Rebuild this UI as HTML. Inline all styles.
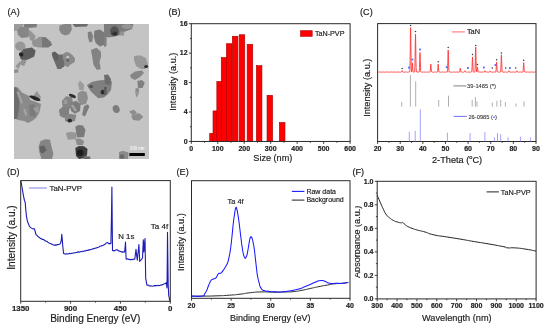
<!DOCTYPE html>
<html><head><meta charset="utf-8"><style>
html,body{margin:0;padding:0;background:#fff;}
svg{display:block;font-family:"Liberation Sans", sans-serif;filter:blur(0.25px);}
text{stroke:#222;stroke-width:0.18px;}
</style></head><body>
<svg width="550" height="331" viewBox="0 0 550 331" font-family='"Liberation Sans", sans-serif'>
<rect width="550" height="331" fill="#fff"/>
<text x="7.6" y="14.7" font-size="9.1" font-weight="normal" text-anchor="start" fill="#222" >(A)</text>
<defs><filter id="bl" x="-5%" y="-5%" width="110%" height="110%"><feGaussianBlur stdDeviation="0.5"/></filter><clipPath id="temc"><rect x="14" y="24" width="135" height="135"/></clipPath></defs>
<g id="tem" clip-path="url(#temc)">
<rect x="14" y="24" width="135" height="135" fill="#c4c4c4"/>
<g filter="url(#bl)">
<polygon points="14,24 24,24 21,28 19,30.3 14,31" fill="#9b9b9b"/>
<polygon points="24.2,24 37,24 36.5,27.2 28,28 24,27" fill="#7c7c7c"/>
<polygon points="17.2,30.3 21.6,26.5 28,27.2 30.5,32.9 28,37.3 21.6,38 17.8,34.8" fill="#868686"/>
<polygon points="28,31.6 31,31 35.6,36 34,41.8 30,40" fill="#959595"/>
<polygon points="31.8,41.8 39.4,36.7 43,37 42,47.5 39.4,47.5 33,46.2" fill="#929292"/>
<polygon points="42,37 45.7,37.3 50.8,41.8 52.1,45 48.3,47.5 42,47.5" fill="#777777"/>
<ellipse cx="20.3" cy="46.2" rx="5.2" ry="4.6" transform="rotate(0 20.3 46.2)" fill="#989898"/>
<polygon points="19,53.8 24.2,48.7 31.8,47.5 35.6,50.6 34.3,56.4 28,59.5 22.9,60.8 20.3,58.3" fill="#5c5c5c"/>
<ellipse cx="21.2" cy="54.5" rx="2.3" ry="1.9" transform="rotate(30 21.2 54.5)" fill="#222222"/>
<polygon points="20.3,61 24,59.5 26.7,61 24,66 21,65" fill="#929292"/>
<polygon points="15.5,66.5 19.5,61.5 21,63.5 18.5,69" fill="#949494"/>
<polygon points="14,70 18,69 18.5,72.4 14,73" fill="#909090"/>
<polygon points="51.8,52.8 54.8,51.5 59,54.8 62.6,54.3 63.8,59.5 65,63 64.5,66.3 60.7,68.9 57.3,68.9 56,65.5 53.9,60.4 52.2,56.2" fill="#6c6c6c"/>
<polygon points="52,53 54.8,51.8 58.5,55.5 58,60 55,60 53,57" fill="#5e5e5e"/>
<polygon points="62.4,54.5 65.8,51.9 69.2,52.4 72.6,55.3 75.1,58.7 74.7,62.1 70.9,64.2 67.5,67.2 65,65.5 63.5,60" fill="#8a8a8a"/>
<ellipse cx="67.7" cy="57.2" rx="1.6" ry="1.1" transform="rotate(0 67.7 57.2)" fill="#c6c6c6"/>
<ellipse cx="67.7" cy="60.2" rx="1.2" ry="1.5" transform="rotate(0 67.7 60.2)" fill="#5e5e5e"/>
<polygon points="59.7,25.4 64.4,24 71.2,24 71.9,29.4 69.2,34.2 65.1,35.6 61,33.5 59,29.4" fill="#878787"/>
<polygon points="72.5,24 88,24 87,26.5 75,27" fill="#6c6c6c"/>
<polygon points="87.8,32 91.5,31.5 93,36 92.4,41.5 89.5,42.4 87.9,37" fill="#808080"/>
<polygon points="94.4,30.8 99.8,29.4 104,32.2 106,38 104,45 99.8,46.4 95.7,43 93.8,37" fill="#7a7a7a"/>
<polygon points="91,50 96.4,47.8 100.7,51.2 101.2,56 99.5,62 100.8,69 97,70 93.5,65 92.4,58" fill="#838383"/>
<polygon points="104,24 133.4,24 132,29 125,31.5 119,35.5 112,37 107,37.6 104,36" fill="#7c7c7c"/>
<polygon points="120.3,31.5 124.4,31.5 124,35.6 120.5,36" fill="#959595"/>
<ellipse cx="114.5" cy="31.2" rx="4.4" ry="5.0" transform="rotate(0 114.5 31.2)" fill="#545454"/>
<ellipse cx="127" cy="26.5" rx="5.5" ry="2.6" transform="rotate(0 127 26.5)" fill="#959595"/>
<ellipse cx="114.4" cy="33.2" rx="3.4" ry="2.4" transform="rotate(0 114.4 33.2)" fill="#4a4a4a"/>
<ellipse cx="114.8" cy="33.7" rx="2.4" ry="1.6" transform="rotate(0 114.8 33.7)" fill="#2e2e2e"/>
<ellipse cx="113.6" cy="28.4" rx="2.0" ry="1.6" transform="rotate(0 113.6 28.4)" fill="#535353"/>
<polygon points="104,37 106.7,38 106.5,46 104,47" fill="#818181"/>
<polygon points="134,56 140,55.3 146,58 148,65 145.5,69 141,69 136,66 133.9,60" fill="#989898"/>
<ellipse cx="146.1" cy="66.5" rx="2.0" ry="1.6" transform="rotate(0 146.1 66.5)" fill="#2e2e2e"/>
<polygon points="130,75 135,71.5 142,70.4 144,73 140,77 135,80 131,78" fill="#868686"/>
<polygon points="137.3,81 142,79.9 144.8,83 142.5,88 138,88" fill="#808080"/>
<polygon points="135.6,88 139.3,88.5 138.5,94 136.5,97.5 135.3,93" fill="#8c8c8c"/>
<polygon points="14,86.5 18,87.5 22,92.5 29,96 30,100 36,102 41,104 40,110 38.5,114 36,118 32,121 28,123 24,121 18,120 14,118" fill="#8a8a8a"/>
<polygon points="14,87.5 17,88 19.5,98 19,110 17,119 14,119" fill="#6e6e6e"/>
<polygon points="16.5,92 18.5,91.6 27.5,114 25.5,116.5" fill="#a2a2a2"/>
<polygon points="29,105 34,104 37,110 35,117 30,116" fill="#7c7c7c"/>
<polygon points="33,108 38,106.5 39.5,111 36,113" fill="#9b9b9b"/>
<polygon points="20,104 25,102 27,108 22,110" fill="#8c8c8c"/>
<polygon points="31.8,98 36.8,91 41.3,97.5 38,99.5" fill="#949494"/>
<ellipse cx="34.9" cy="98.2" rx="6.0" ry="1.8" transform="rotate(21 34.9 98.2)" fill="#262626"/>
<polygon points="78,84 80,80.4 84.3,85 83.5,90 79.5,90" fill="#9c9c9c"/>
<polygon points="77.8,93 82,90.5 86.5,92 88,98 86,104 81,105 77.5,100" fill="#8e8e8e"/>
<polygon points="61.8,101 66,96.3 72,97 73,103 70,109.4 63,109" fill="#858585"/>
<polygon points="63.3,100 67,99.5 67.5,104 64,104" fill="#9a9a9a"/>
<polygon points="58.9,110 63,106.5 69,107.5 69,115 64,118 60,116" fill="#808080"/>
<polygon points="70.5,103 76,100.7 80.7,104 80,111 75,113.7 71,111" fill="#7c7c7c"/>
<polygon points="71,105.5 73,104.5 77,110.5 75,111.5" fill="#a4a4a4"/>
<polygon points="84,106 88,104.3 89.4,106.5 85,116.6 82.1,115" fill="#7c7c7c"/>
<polygon points="64.7,116 70,113.7 76.3,115 75,121 69,122.4 65,121" fill="#858585"/>
<ellipse cx="72.4" cy="95.9" rx="3.8" ry="1.5" transform="rotate(26 72.4 95.9)" fill="#2e2e2e"/>
<ellipse cx="69.8" cy="120.6" rx="2.3" ry="1.9" transform="rotate(0 69.8 120.6)" fill="#2a2a2a"/>
<polygon points="86.9,85.3 91.6,81.9 98.4,80.6 104,79.9 108,78 112,82 111,90 108,94 104,97.5 98.4,98.2 94.3,94.8 90.3,90.8" fill="#7f7f7f"/>
<ellipse cx="91" cy="86.6" rx="2.2" ry="1.5" transform="rotate(0 91 86.6)" fill="#555555"/>
<ellipse cx="102.6" cy="92.2" rx="2.0" ry="2.4" transform="rotate(0 102.6 92.2)" fill="#2e2e2e"/>
<polygon points="104,75 108,74.4 111,79 110,85 105,84" fill="#6c6c6c"/>
<polygon points="104,87 106.7,86.7 106.5,94.8 104,95" fill="#5c5c5c"/>
<ellipse cx="116.2" cy="109.1" rx="3.4" ry="4.0" transform="rotate(-20 116.2 109.1)" fill="#7c7c7c"/>
<polygon points="129.2,111.5 134,109.5 137,113 133,116" fill="#8e8e8e"/>
<polygon points="131.2,116 139,113 143.4,117 139,120.8 133,120" fill="#8c8c8c"/>
<polygon points="135.4,92 139.5,92 137.5,96.1" fill="#9a9a9a"/>
<polygon points="38.5,147 40.5,141 45.3,139.2 50,139.8 51.4,146 53.4,154 52,159 41.5,159 39.5,153" fill="#848484"/>
<polygon points="39.8,146.6 44,145.5 46.6,150 43,153.4 40,152" fill="#626262"/>
<polygon points="65.8,133 71,131.7 76.7,133 76,139 68,139.8" fill="#979797"/>
<polygon points="75.3,127 78,124.9 83,125.5 85.5,130 84,137.1 77,137.5" fill="#7a7a7a"/>
<polygon points="75.3,139.1 80,138.5 84.1,141 83,145.3 77,145" fill="#8b8b8b"/>
<polygon points="75.3,148 79,146 84,146.2 87.5,149 87,155 84,158 79,159 76,156" fill="#3e3e3e"/>
<ellipse cx="80.1" cy="152.7" rx="3.4" ry="3.2" transform="rotate(0 80.1 152.7)" fill="#1e1e1e"/>
<polygon points="83.5,156.1 90.3,156.6 90.3,159 83.5,159" fill="#6c6c6c"/>
<polygon points="119,152 123,150.7 128.5,152.5 128,159 119,159" fill="#8b8b8b"/>
<ellipse cx="122" cy="156.5" rx="2.4" ry="2.2" transform="rotate(0 122 156.5)" fill="#696969"/>
</g>
<rect x="129.3" y="153" width="15.5" height="3" fill="#050505"/>
<text x="130.1" y="150.1" font-size="5.2" font-weight="bold" fill="#f4f4f4" style="stroke:none" textLength="14.4" lengthAdjust="spacingAndGlyphs">200 nm</text>
</g>
<text x="168.5" y="14.7" font-size="9.1" font-weight="normal" text-anchor="start" fill="#222" >(B)</text>
<rect x="209.71" y="133.35" width="5.6" height="8.10" fill="#ff0000" stroke="#a80000" stroke-width="0.6"/>
<rect x="213.01" y="110.91" width="5.6" height="30.54" fill="#ff0000" stroke="#a80000" stroke-width="0.6"/>
<rect x="216.83" y="81.47" width="5.6" height="59.98" fill="#ff0000" stroke="#a80000" stroke-width="0.6"/>
<rect x="221.25" y="57.55" width="5.6" height="83.90" fill="#ff0000" stroke="#a80000" stroke-width="0.6"/>
<rect x="226.38" y="43.72" width="5.6" height="97.73" fill="#ff0000" stroke="#a80000" stroke-width="0.6"/>
<rect x="232.31" y="36.28" width="5.6" height="105.17" fill="#ff0000" stroke="#a80000" stroke-width="0.6"/>
<rect x="239.16" y="34.74" width="5.6" height="106.71" fill="#ff0000" stroke="#a80000" stroke-width="0.6"/>
<rect x="247.13" y="44.31" width="5.6" height="97.14" fill="#ff0000" stroke="#a80000" stroke-width="0.6"/>
<rect x="256.34" y="65.65" width="5.6" height="75.80" fill="#ff0000" stroke="#a80000" stroke-width="0.6"/>
<rect x="267.01" y="95.31" width="5.6" height="46.14" fill="#ff0000" stroke="#a80000" stroke-width="0.6"/>
<rect x="279.37" y="122.46" width="5.6" height="18.99" fill="#ff0000" stroke="#a80000" stroke-width="0.6"/>
<rect x="191.3" y="23.7" width="158.8" height="117.74999999999999" fill="none" stroke="#2a2a2a" stroke-width="1"/>
<line x1="191.3" y1="141.45" x2="191.3" y2="143.85" stroke="#2a2a2a" stroke-width="0.9"/>
<line x1="204.53333333333336" y1="141.45" x2="204.53333333333336" y2="142.75" stroke="#2a2a2a" stroke-width="0.9"/>
<line x1="217.76666666666668" y1="141.45" x2="217.76666666666668" y2="143.85" stroke="#2a2a2a" stroke-width="0.9"/>
<line x1="231.0" y1="141.45" x2="231.0" y2="142.75" stroke="#2a2a2a" stroke-width="0.9"/>
<line x1="244.23333333333335" y1="141.45" x2="244.23333333333335" y2="143.85" stroke="#2a2a2a" stroke-width="0.9"/>
<line x1="257.4666666666667" y1="141.45" x2="257.4666666666667" y2="142.75" stroke="#2a2a2a" stroke-width="0.9"/>
<line x1="270.70000000000005" y1="141.45" x2="270.70000000000005" y2="143.85" stroke="#2a2a2a" stroke-width="0.9"/>
<line x1="283.93333333333334" y1="141.45" x2="283.93333333333334" y2="142.75" stroke="#2a2a2a" stroke-width="0.9"/>
<line x1="297.1666666666667" y1="141.45" x2="297.1666666666667" y2="143.85" stroke="#2a2a2a" stroke-width="0.9"/>
<line x1="310.4" y1="141.45" x2="310.4" y2="142.75" stroke="#2a2a2a" stroke-width="0.9"/>
<line x1="323.6333333333333" y1="141.45" x2="323.6333333333333" y2="143.85" stroke="#2a2a2a" stroke-width="0.9"/>
<line x1="336.8666666666667" y1="141.45" x2="336.8666666666667" y2="142.75" stroke="#2a2a2a" stroke-width="0.9"/>
<line x1="350.1" y1="141.45" x2="350.1" y2="143.85" stroke="#2a2a2a" stroke-width="0.9"/>
<line x1="188.9" y1="141.45" x2="191.3" y2="141.45" stroke="#2a2a2a" stroke-width="0.9"/>
<line x1="190.0" y1="126.73124999999999" x2="191.3" y2="126.73124999999999" stroke="#2a2a2a" stroke-width="0.9"/>
<line x1="188.9" y1="112.01249999999999" x2="191.3" y2="112.01249999999999" stroke="#2a2a2a" stroke-width="0.9"/>
<line x1="190.0" y1="97.29374999999999" x2="191.3" y2="97.29374999999999" stroke="#2a2a2a" stroke-width="0.9"/>
<line x1="188.9" y1="82.57499999999999" x2="191.3" y2="82.57499999999999" stroke="#2a2a2a" stroke-width="0.9"/>
<line x1="190.0" y1="67.85625" x2="191.3" y2="67.85625" stroke="#2a2a2a" stroke-width="0.9"/>
<line x1="188.9" y1="53.1375" x2="191.3" y2="53.1375" stroke="#2a2a2a" stroke-width="0.9"/>
<line x1="190.0" y1="38.41875" x2="191.3" y2="38.41875" stroke="#2a2a2a" stroke-width="0.9"/>
<line x1="188.9" y1="23.700000000000003" x2="191.3" y2="23.700000000000003" stroke="#2a2a2a" stroke-width="0.9"/>
<text x="191.3" y="150.9" font-size="7.0" font-weight="bold" text-anchor="middle" fill="#222" >0</text>
<text x="217.76666666666668" y="150.9" font-size="7.0" font-weight="bold" text-anchor="middle" fill="#222" >100</text>
<text x="244.23333333333335" y="150.9" font-size="7.0" font-weight="bold" text-anchor="middle" fill="#222" >200</text>
<text x="270.70000000000005" y="150.9" font-size="7.0" font-weight="bold" text-anchor="middle" fill="#222" >300</text>
<text x="297.1666666666667" y="150.9" font-size="7.0" font-weight="bold" text-anchor="middle" fill="#222" >400</text>
<text x="323.6333333333333" y="150.9" font-size="7.0" font-weight="bold" text-anchor="middle" fill="#222" >500</text>
<text x="350.1" y="150.9" font-size="7.0" font-weight="bold" text-anchor="middle" fill="#222" >600</text>
<text x="187.6" y="143.64999999999998" font-size="7.0" font-weight="bold" text-anchor="end" fill="#222" >0</text>
<text x="187.6" y="114.21249999999999" font-size="7.0" font-weight="bold" text-anchor="end" fill="#222" >4</text>
<text x="187.6" y="84.77499999999999" font-size="7.0" font-weight="bold" text-anchor="end" fill="#222" >8</text>
<text x="187.6" y="55.337500000000006" font-size="7.0" font-weight="bold" text-anchor="end" fill="#222" >12</text>
<text x="187.6" y="25.900000000000002" font-size="7.0" font-weight="bold" text-anchor="end" fill="#222" >16</text>
<text x="272.8" y="160.5" font-size="9.1" font-weight="normal" text-anchor="middle" fill="#222" >Size (nm)</text>
<text transform="translate(176.3,81.7) rotate(-90)" font-size="9.2" text-anchor="middle" fill="#222">Intensity (a.u.)</text>
<rect x="300.5" y="30.7" width="11.7" height="5.6" fill="#ff0000" stroke="#b00000" stroke-width="0.6"/>
<text x="314.9" y="35.8" font-size="7.2" font-weight="normal" text-anchor="start" fill="#222" >TaN-PVP</text>
<text x="360.1" y="14.7" font-size="9.1" font-weight="normal" text-anchor="start" fill="#222" >(C)</text>
<rect x="377.6" y="23.6" width="158.39999999999998" height="117.9" fill="none" stroke="#2a2a2a" stroke-width="1"/>
<line x1="377.6" y1="141.5" x2="377.6" y2="143.9" stroke="#2a2a2a" stroke-width="0.9"/>
<line x1="388.9142857142857" y1="141.5" x2="388.9142857142857" y2="142.8" stroke="#2a2a2a" stroke-width="0.9"/>
<line x1="400.22857142857146" y1="141.5" x2="400.22857142857146" y2="143.9" stroke="#2a2a2a" stroke-width="0.9"/>
<line x1="411.54285714285714" y1="141.5" x2="411.54285714285714" y2="142.8" stroke="#2a2a2a" stroke-width="0.9"/>
<line x1="422.8571428571429" y1="141.5" x2="422.8571428571429" y2="143.9" stroke="#2a2a2a" stroke-width="0.9"/>
<line x1="434.1714285714286" y1="141.5" x2="434.1714285714286" y2="142.8" stroke="#2a2a2a" stroke-width="0.9"/>
<line x1="445.48571428571427" y1="141.5" x2="445.48571428571427" y2="143.9" stroke="#2a2a2a" stroke-width="0.9"/>
<line x1="456.8" y1="141.5" x2="456.8" y2="142.8" stroke="#2a2a2a" stroke-width="0.9"/>
<line x1="468.11428571428576" y1="141.5" x2="468.11428571428576" y2="143.9" stroke="#2a2a2a" stroke-width="0.9"/>
<line x1="479.42857142857144" y1="141.5" x2="479.42857142857144" y2="142.8" stroke="#2a2a2a" stroke-width="0.9"/>
<line x1="490.74285714285713" y1="141.5" x2="490.74285714285713" y2="143.9" stroke="#2a2a2a" stroke-width="0.9"/>
<line x1="502.0571428571428" y1="141.5" x2="502.0571428571428" y2="142.8" stroke="#2a2a2a" stroke-width="0.9"/>
<line x1="513.3714285714286" y1="141.5" x2="513.3714285714286" y2="143.9" stroke="#2a2a2a" stroke-width="0.9"/>
<line x1="524.6857142857143" y1="141.5" x2="524.6857142857143" y2="142.8" stroke="#2a2a2a" stroke-width="0.9"/>
<line x1="536.0" y1="141.5" x2="536.0" y2="143.9" stroke="#2a2a2a" stroke-width="0.9"/>
<text x="377.6" y="150.9" font-size="7.0" font-weight="bold" text-anchor="middle" fill="#222" >20</text>
<text x="400.22857142857146" y="150.9" font-size="7.0" font-weight="bold" text-anchor="middle" fill="#222" >30</text>
<text x="422.8571428571429" y="150.9" font-size="7.0" font-weight="bold" text-anchor="middle" fill="#222" >40</text>
<text x="445.48571428571427" y="150.9" font-size="7.0" font-weight="bold" text-anchor="middle" fill="#222" >50</text>
<text x="468.11428571428576" y="150.9" font-size="7.0" font-weight="bold" text-anchor="middle" fill="#222" >60</text>
<text x="490.74285714285713" y="150.9" font-size="7.0" font-weight="bold" text-anchor="middle" fill="#222" >70</text>
<text x="513.3714285714286" y="150.9" font-size="7.0" font-weight="bold" text-anchor="middle" fill="#222" >80</text>
<text x="536.0" y="150.9" font-size="7.0" font-weight="bold" text-anchor="middle" fill="#222" >90</text>
<text x="432.0" y="162.6" font-size="9.2" fill="#222">2-Theta (<tspan font-size="5.6" dy="-4">o</tspan><tspan dy="4">C)</tspan></text>
<text transform="translate(369.8,87.75) rotate(-90)" font-size="9.2" text-anchor="middle" fill="#222">Intensity (a.u.)</text>
<polyline points="378.1,72.2 378.3,72.2 378.5,72.2 378.7,72.1 378.9,72.1 379.1,72.0 379.3,72.0 379.5,72.0 379.7,72.0 379.9,72.0 380.1,72.0 380.3,72.0 380.5,72.1 380.7,72.1 380.9,72.1 381.1,72.2 381.3,72.2 381.5,72.2 381.7,72.2 381.9,72.2 382.1,72.2 382.3,72.1 382.5,72.1 382.7,72.1 382.9,72.0 383.1,72.0 383.3,72.0 383.5,72.0 383.7,72.0 383.9,72.0 384.1,72.0 384.3,72.1 384.5,72.1 384.7,72.2 384.9,72.2 385.1,72.2 385.3,72.2 385.5,72.2 385.7,72.2 385.9,72.2 386.1,72.1 386.3,72.1 386.5,72.0 386.7,72.0 386.9,72.0 387.1,72.0 387.3,72.0 387.5,72.0 387.7,72.0 387.9,72.1 388.1,72.1 388.3,72.1 388.5,72.2 388.7,72.2 388.9,72.2 389.1,72.2 389.3,72.2 389.5,72.2 389.7,72.1 389.9,72.1 390.1,72.1 390.3,72.0 390.5,72.0 390.7,72.0 390.9,72.0 391.1,72.0 391.3,72.0 391.5,72.0 391.7,72.1 391.9,72.1 392.1,72.2 392.3,72.2 392.5,72.2 392.7,72.2 392.9,72.2 393.1,72.2 393.3,72.2 393.5,72.1 393.7,72.1 393.9,72.0 394.1,72.0 394.3,72.0 394.5,72.0 394.7,72.0 394.9,72.0 395.1,72.0 395.3,72.1 395.5,72.1 395.7,72.1 395.9,72.2 396.1,72.2 396.3,72.2 396.5,72.2 396.7,72.2 396.9,72.2 397.1,72.1 397.3,72.1 397.5,72.1 397.7,72.0 397.9,72.0 398.1,72.0 398.3,72.0 398.5,72.0 398.7,72.0 398.9,72.0 399.1,72.1 399.3,72.1 399.5,72.2 399.7,72.2 399.9,72.2 400.1,72.2 400.3,72.2 400.5,72.2 400.7,72.2 400.9,72.1 401.1,72.1 401.3,72.0 401.5,71.8 401.7,71.4 401.9,70.9 402.1,70.6 402.3,70.9 402.5,71.5 402.7,71.9 402.9,72.1 403.1,72.1 403.3,72.2 403.5,72.2 403.7,72.2 403.9,72.2 404.1,72.2 404.3,72.2 404.5,72.1 404.7,72.1 404.9,72.1 405.1,72.0 405.3,72.0 405.5,72.0 405.7,72.0 405.9,72.0 406.1,72.0 406.3,72.0 406.5,72.1 406.7,72.1 406.9,72.2 407.1,72.2 407.3,72.2 407.5,72.2 407.7,72.2 407.9,72.2 408.1,72.2 408.3,72.1 408.5,72.1 408.7,72.0 408.9,72.0 409.1,72.0 409.3,72.0 409.5,71.9 409.7,71.6 409.9,69.3 410.1,61.3 410.3,45.4 410.5,30.1 410.6,27.7 410.7,30.1 410.9,45.5 411.1,61.4 411.3,69.5 411.5,71.8 411.7,71.9 411.9,70.5 412.1,67.2 412.3,63.5 412.4,62.8 412.5,63.4 412.7,67.1 412.9,70.4 413.1,71.7 413.3,72.0 413.5,72.0 413.7,72.1 413.9,72.1 414.1,72.1 414.3,72.2 414.5,72.1 414.7,71.2 414.9,67.3 415.1,56.9 415.3,41.9 415.5,34.2 415.7,41.8 415.9,56.7 416.1,67.1 416.3,71.0 416.5,71.9 416.7,72.0 416.9,72.0 417.1,72.0 417.3,72.0 417.5,72.1 417.7,72.1 417.9,72.2 418.1,72.2 418.3,72.2 418.5,72.2 418.7,72.2 418.9,72.2 419.1,72.0 419.3,70.9 419.5,67.4 419.7,60.4 419.9,53.6 420.0,52.5 420.1,53.6 420.3,60.3 420.5,67.3 420.7,70.8 420.9,71.8 421.1,72.0 421.3,72.1 421.5,72.1 421.7,72.2 421.9,72.2 422.1,72.2 422.3,72.2 422.5,72.2 422.7,72.2 422.9,72.2 423.1,72.1 423.3,72.1 423.5,72.0 423.7,72.0 423.9,72.0 424.1,72.0 424.3,72.0 424.5,72.0 424.7,72.0 424.9,72.1 425.1,72.1 425.3,72.2 425.5,72.2 425.7,72.2 425.9,72.2 426.1,72.2 426.3,72.2 426.5,72.2 426.7,72.1 426.9,72.1 427.1,72.1 427.3,72.0 427.5,72.0 427.7,72.0 427.9,72.0 428.1,72.0 428.3,72.0 428.5,72.1 428.7,72.1 428.9,72.1 429.1,72.2 429.3,72.2 429.5,72.2 429.7,72.2 429.9,72.1 430.1,71.7 430.3,70.2 430.5,67.3 430.7,64.4 430.8,64.0 430.9,64.4 431.1,67.1 431.3,70.0 431.5,71.5 431.7,71.9 431.9,72.0 432.1,72.0 432.3,72.1 432.5,72.1 432.7,72.2 432.9,72.2 433.1,72.2 433.3,72.2 433.5,72.2 433.7,72.2 433.9,72.2 434.1,72.1 434.3,72.1 434.5,72.1 434.7,72.0 434.9,72.0 435.1,72.0 435.3,72.0 435.5,72.0 435.7,72.0 435.9,72.1 436.1,72.1 436.3,72.1 436.5,72.2 436.7,72.2 436.9,72.2 437.1,72.2 437.3,72.1 437.5,71.7 437.7,70.2 437.9,67.3 438.1,64.4 438.2,64.0 438.3,64.4 438.5,67.1 438.7,70.0 438.9,71.5 439.1,71.9 439.3,72.0 439.5,72.0 439.7,72.1 439.9,72.1 440.1,72.2 440.3,72.2 440.5,72.2 440.7,72.2 440.9,72.2 441.1,72.2 441.3,72.2 441.5,72.1 441.7,72.1 441.9,72.1 442.1,72.0 442.3,72.0 442.5,72.0 442.7,72.0 442.9,72.0 443.1,72.0 443.3,72.1 443.5,72.1 443.7,72.1 443.9,72.2 444.1,72.2 444.3,72.2 444.5,72.2 444.7,72.2 444.9,72.2 445.1,72.2 445.3,72.1 445.5,72.1 445.7,72.0 445.9,72.0 446.1,72.0 446.3,72.0 446.5,72.0 446.7,72.0 446.9,72.0 447.1,72.1 447.3,71.9 447.5,70.8 447.7,66.8 447.9,58.9 448.1,51.2 448.2,50.0 448.3,51.2 448.5,58.9 448.7,66.8 448.9,70.8 449.1,71.9 449.3,72.0 449.5,72.0 449.7,72.0 449.9,72.0 450.1,72.0 450.3,72.0 450.5,72.0 450.7,72.1 450.9,72.1 451.1,72.1 451.3,72.2 451.5,72.2 451.7,72.2 451.9,72.2 452.1,72.2 452.3,72.2 452.5,72.2 452.7,72.1 452.9,72.1 453.1,72.0 453.3,72.0 453.5,72.0 453.7,72.0 453.9,72.0 454.1,72.0 454.3,72.0 454.5,72.1 454.7,72.1 454.9,72.2 455.1,72.2 455.3,72.2 455.5,72.2 455.7,72.2 455.9,72.2 456.1,72.2 456.3,72.1 456.5,72.1 456.7,72.1 456.9,72.0 457.1,72.0 457.3,72.0 457.5,72.0 457.7,72.0 457.9,72.0 458.1,72.1 458.3,72.1 458.5,72.1 458.7,72.2 458.9,72.2 459.1,72.2 459.3,72.2 459.5,72.1 459.7,71.7 459.9,70.5 460.1,68.8 460.3,68.0 460.5,68.8 460.7,70.3 460.9,71.5 461.1,71.9 461.3,72.0 461.5,72.0 461.7,72.0 461.9,72.1 462.1,72.1 462.3,72.2 462.5,72.2 462.7,72.2 462.9,72.2 463.1,72.2 463.3,72.2 463.5,72.2 463.7,72.1 463.9,72.1 464.1,72.0 464.3,71.9 464.5,71.7 464.7,71.2 464.9,70.8 465.0,70.7 465.1,70.8 465.3,71.2 465.5,71.7 465.7,72.0 465.9,72.1 466.1,72.2 466.3,72.2 466.5,72.2 466.7,72.2 466.9,72.2 467.1,72.2 467.3,72.1 467.5,72.1 467.7,72.1 467.9,72.0 468.1,72.0 468.3,72.0 468.5,72.0 468.7,72.0 468.9,72.0 469.1,72.0 469.3,72.1 469.5,72.1 469.7,72.2 469.9,72.2 470.1,72.2 470.3,72.2 470.5,72.2 470.7,72.2 470.9,72.2 471.1,72.1 471.3,72.1 471.5,72.0 471.7,71.6 471.9,70.0 472.1,65.9 472.3,60.0 472.5,57.0 472.7,60.1 472.9,66.0 473.1,70.2 473.3,71.7 473.5,72.1 473.7,72.2 473.9,72.2 474.1,72.2 474.3,72.2 474.5,72.2 474.7,72.1 474.9,71.4 475.1,68.8 475.3,62.0 475.5,52.2 475.7,47.1 475.9,52.1 476.1,61.9 476.3,68.8 476.5,71.4 476.7,72.0 476.9,71.7 477.1,70.5 477.3,68.3 477.5,67.1 477.7,68.4 477.9,70.5 478.1,71.8 478.3,72.1 478.5,72.1 478.7,72.1 478.9,72.0 479.1,72.0 479.3,72.0 479.5,72.0 479.7,72.0 479.9,72.0 480.1,72.0 480.3,72.1 480.5,72.1 480.7,72.1 480.9,72.2 481.1,72.2 481.3,72.2 481.5,72.2 481.7,72.2 481.9,72.2 482.1,72.1 482.3,72.1 482.5,72.1 482.7,72.0 482.9,72.0 483.1,72.0 483.3,72.0 483.5,72.0 483.7,72.0 483.9,72.0 484.1,72.1 484.3,72.0 484.5,71.8 484.7,71.2 484.9,70.7 485.0,70.6 485.1,70.7 485.3,71.3 485.5,71.8 485.7,72.1 485.9,72.1 486.1,72.1 486.3,72.0 486.5,72.0 486.7,72.0 486.9,72.0 487.1,72.0 487.3,72.0 487.5,72.0 487.7,72.1 487.9,72.1 488.1,72.1 488.3,72.2 488.5,72.2 488.7,72.2 488.9,72.2 489.1,72.2 489.3,72.1 489.5,71.9 489.7,71.4 489.9,71.0 490.0,70.9 490.1,71.0 490.3,71.3 490.5,71.7 490.7,71.9 490.9,72.0 491.1,72.0 491.3,72.0 491.5,72.1 491.7,72.1 491.9,72.2 492.1,72.2 492.3,72.2 492.5,72.2 492.7,72.2 492.9,72.2 493.1,72.2 493.3,72.1 493.5,72.1 493.7,72.0 493.9,72.0 494.1,72.0 494.3,72.0 494.5,72.0 494.7,72.0 494.9,72.0 495.1,72.1 495.3,72.1 495.5,72.1 495.7,72.1 495.9,71.6 496.1,69.8 496.3,66.2 496.5,62.7 496.6,62.1 496.7,62.6 496.9,66.1 497.1,69.7 497.3,71.4 497.5,71.9 497.7,72.0 497.9,72.0 498.1,72.0 498.3,72.0 498.5,72.0 498.7,72.0 498.9,72.1 499.1,72.1 499.3,72.2 499.5,72.2 499.7,72.2 499.9,72.2 500.1,72.2 500.3,72.2 500.5,72.0 500.7,71.1 500.9,67.9 501.1,61.7 501.3,55.8 501.4,54.8 501.5,55.7 501.7,61.7 501.9,67.8 502.1,70.9 502.3,71.9 502.5,72.1 502.7,72.1 502.9,72.1 503.1,72.2 503.3,72.2 503.5,72.2 503.7,72.2 503.9,72.2 504.1,72.2 504.3,72.1 504.5,72.1 504.7,72.1 504.9,72.0 505.1,72.0 505.3,72.0 505.5,72.0 505.7,72.0 505.9,72.0 506.1,72.1 506.3,72.1 506.5,72.1 506.7,72.2 506.9,72.2 507.1,72.2 507.3,72.2 507.5,72.2 507.7,72.2 507.9,72.2 508.1,72.1 508.3,72.0 508.5,71.7 508.7,71.2 508.9,70.8 509.0,70.7 509.1,70.8 509.3,71.2 509.5,71.7 509.7,72.0 509.9,72.1 510.1,72.1 510.3,72.1 510.5,72.2 510.7,72.2 510.9,72.2 511.1,72.2 511.3,72.2 511.5,72.2 511.7,72.1 511.9,72.1 512.1,72.1 512.3,72.0 512.5,72.0 512.7,72.0 512.9,72.0 513.1,72.0 513.3,72.0 513.5,72.1 513.7,72.1 513.9,72.1 514.1,72.2 514.3,72.2 514.5,72.2 514.7,72.2 514.9,72.2 515.1,72.2 515.3,72.2 515.5,72.1 515.7,72.1 515.9,72.0 516.1,72.0 516.3,71.9 516.5,71.7 516.7,71.2 516.9,70.8 517.0,70.7 517.1,70.8 517.3,71.3 517.5,71.8 517.7,72.1 517.9,72.2 518.1,72.2 518.3,72.2 518.5,72.2 518.7,72.2 518.9,72.2 519.1,72.1 519.3,72.1 519.5,72.1 519.7,72.0 519.9,72.0 520.1,72.0 520.3,72.0 520.5,72.0 520.7,72.0 520.9,72.1 521.1,72.1 521.3,72.1 521.5,72.2 521.7,72.2 521.9,72.2 522.1,72.2 522.3,72.2 522.5,72.2 522.7,72.1 522.9,71.9 523.1,70.9 523.3,68.3 523.5,64.6 523.7,62.7 523.9,64.6 524.1,68.2 524.3,70.8 524.5,71.8 524.7,72.0 524.9,72.1 525.1,72.2 525.3,72.2 525.5,72.2 525.7,72.2 525.9,72.2 526.1,72.2 526.3,72.2 526.5,72.1 526.7,72.1 526.9,72.1 527.1,72.0 527.3,72.0 527.5,72.0 527.7,72.0 527.9,72.0 528.1,72.0 528.3,72.1 528.5,72.1 528.7,72.1 528.9,72.2 529.1,72.2 529.3,72.2 529.5,72.2 529.7,72.2 529.9,72.2 530.1,72.2 530.3,72.1 530.5,72.1 530.7,72.0 530.9,72.0 531.1,72.0 531.3,72.0 531.5,72.0 531.7,72.0 531.9,72.0 532.1,72.1 532.3,72.1 532.5,72.2 532.7,72.2 532.9,72.2 533.1,72.2 533.3,72.2 533.5,72.2 533.7,72.2 533.9,72.1 534.1,72.1 534.3,72.1 534.5,72.0 534.7,72.0 534.9,72.0 535.1,72.0 535.3,72.0 535.5,72.0" fill="none" stroke="#ff3535" stroke-width="0.9" stroke-linejoin="round" />
<circle cx="402.1" cy="68.4" r="0.75" fill="#333"/>
<circle cx="410.6" cy="25.4" r="0.75" fill="#333"/>
<circle cx="415.5" cy="31.4" r="0.75" fill="#333"/>
<circle cx="438.2" cy="61.7" r="0.75" fill="#333"/>
<circle cx="448.2" cy="47.6" r="0.75" fill="#333"/>
<circle cx="472.5" cy="54.4" r="0.75" fill="#333"/>
<circle cx="475.7" cy="45.4" r="0.75" fill="#333"/>
<circle cx="477.5" cy="64.4" r="0.75" fill="#333"/>
<circle cx="492.3" cy="68" r="0.75" fill="#333"/>
<circle cx="496.6" cy="59.7" r="0.75" fill="#333"/>
<circle cx="501.4" cy="52.9" r="0.75" fill="#333"/>
<circle cx="505.6" cy="68" r="0.75" fill="#333"/>
<circle cx="515.7" cy="68" r="0.75" fill="#333"/>
<circle cx="523.7" cy="60.2" r="0.75" fill="#333"/>
<rect x="407.90000000000003" y="66.69999999999999" width="1.8" height="1.8" fill="#4a6cff"/>
<rect x="411.5" y="58.6" width="1.8" height="1.8" fill="#4a6cff"/>
<rect x="419.1" y="48.6" width="1.8" height="1.8" fill="#4a6cff"/>
<rect x="445.8" y="66.19999999999999" width="1.8" height="1.8" fill="#4a6cff"/>
<rect x="467.0" y="67.1" width="1.8" height="1.8" fill="#4a6cff"/>
<rect x="483.0" y="66.6" width="1.8" height="1.8" fill="#4a6cff"/>
<rect x="494.5" y="64.1" width="1.8" height="1.8" fill="#4a6cff"/>
<rect x="509.0" y="67.1" width="1.8" height="1.8" fill="#4a6cff"/>
<line x1="401.7" y1="106.6" x2="401.7" y2="102.1" stroke="#9a9a9a" stroke-width="0.8"/>
<line x1="410.4" y1="106.6" x2="410.4" y2="75.2" stroke="#9a9a9a" stroke-width="0.8"/>
<line x1="415.7" y1="106.6" x2="415.7" y2="81.3" stroke="#9a9a9a" stroke-width="0.8"/>
<line x1="438.7" y1="106.6" x2="438.7" y2="100" stroke="#9a9a9a" stroke-width="0.8"/>
<line x1="448.5" y1="106.6" x2="448.5" y2="95.7" stroke="#9a9a9a" stroke-width="0.8"/>
<line x1="472.2" y1="106.6" x2="472.2" y2="99.9" stroke="#9a9a9a" stroke-width="0.8"/>
<line x1="475.4" y1="106.6" x2="475.4" y2="97.2" stroke="#9a9a9a" stroke-width="0.8"/>
<line x1="477" y1="106.6" x2="477" y2="101.4" stroke="#9a9a9a" stroke-width="0.8"/>
<line x1="492.3" y1="106.6" x2="492.3" y2="102.5" stroke="#9a9a9a" stroke-width="0.8"/>
<line x1="496.9" y1="106.6" x2="496.9" y2="100.8" stroke="#9a9a9a" stroke-width="0.8"/>
<line x1="500.7" y1="106.6" x2="500.7" y2="99.9" stroke="#9a9a9a" stroke-width="0.8"/>
<line x1="505.4" y1="106.6" x2="505.4" y2="102" stroke="#9a9a9a" stroke-width="0.8"/>
<line x1="516.1" y1="106.6" x2="516.1" y2="103.5" stroke="#9a9a9a" stroke-width="0.8"/>
<line x1="524" y1="106.6" x2="524" y2="101.4" stroke="#9a9a9a" stroke-width="0.8"/>
<line x1="409.3" y1="141.5" x2="409.3" y2="131.7" stroke="#8c8cff" stroke-width="0.8"/>
<line x1="415.2" y1="141.5" x2="415.2" y2="130.7" stroke="#8c8cff" stroke-width="0.8"/>
<line x1="420.3" y1="141.5" x2="420.3" y2="109.5" stroke="#8c8cff" stroke-width="0.8"/>
<line x1="447.4" y1="141.5" x2="447.4" y2="132.6" stroke="#8c8cff" stroke-width="0.8"/>
<line x1="470.1" y1="141.5" x2="470.1" y2="133.1" stroke="#8c8cff" stroke-width="0.8"/>
<line x1="484.9" y1="141.5" x2="484.9" y2="132" stroke="#8c8cff" stroke-width="0.8"/>
<line x1="494.4" y1="141.5" x2="494.4" y2="137.3" stroke="#8c8cff" stroke-width="0.8"/>
<line x1="497.5" y1="141.5" x2="497.5" y2="133.1" stroke="#8c8cff" stroke-width="0.8"/>
<line x1="500.7" y1="141.5" x2="500.7" y2="134.2" stroke="#8c8cff" stroke-width="0.8"/>
<line x1="508.1" y1="141.5" x2="508.1" y2="137.3" stroke="#8c8cff" stroke-width="0.8"/>
<line x1="520.4" y1="141.5" x2="520.4" y2="136.7" stroke="#8c8cff" stroke-width="0.8"/>
<line x1="530.3" y1="141.5" x2="530.3" y2="137.3" stroke="#8c8cff" stroke-width="0.8"/>
<line x1="452" y1="31.9" x2="464.9" y2="31.9" stroke="#ff8080" stroke-width="1.2"/>
<text x="466.9" y="33.8" font-size="7.4" font-weight="normal" text-anchor="start" fill="#222" >TaN</text>
<line x1="453.5" y1="85.9" x2="466.4" y2="85.9" stroke="#8a8a8a" stroke-width="1.1"/>
<text x="467.1" y="88.2" font-size="6.2" font-weight="normal" text-anchor="start" fill="#333" style="stroke-width:0.08px" textLength="28.8" lengthAdjust="spacingAndGlyphs">39-1485 (*)</text>
<line x1="453.6" y1="116.4" x2="466.8" y2="116.4" stroke="#7a7aff" stroke-width="1.1"/>
<text x="468.4" y="118.6" font-size="6.2" font-weight="normal" text-anchor="start" fill="#333" style="stroke-width:0.08px" textLength="28.6" lengthAdjust="spacingAndGlyphs">26-0985 (<tspan fill="#4a6cff">▪</tspan>)</text>
<text x="7.0" y="174.7" font-size="9.1" font-weight="normal" text-anchor="start" fill="#222" >(D)</text>
<polyline points="20.9,181.2 21.4,184.1 22.0,187.0 22.5,190.0 23.0,193.0 23.5,195.8 24.0,198.5 24.6,201.0 25.2,202.2 25.8,210.0 26.5,216.6 27.0,219.1 27.5,221.5 28.2,223.1 28.9,225.1 29.4,226.1 30.0,226.9 30.5,227.5 31.0,227.7 31.5,228.1 32.0,228.4 32.5,228.7 33.1,228.8 33.8,228.9 34.4,228.7 35.2,231.5 36.1,234.8 36.6,235.0 37.1,235.4 37.6,236.3 38.2,236.5 38.7,237.2 39.2,237.2 39.7,237.9 40.2,238.1 40.8,238.6 41.3,238.5 41.9,239.2 42.4,239.5 43.0,239.2 43.5,239.5 44.1,240.1 44.6,240.3 45.1,240.9 45.7,240.9 46.2,241.1 46.7,241.5 47.3,241.6 47.8,242.1 48.3,242.5 48.9,242.9 49.4,243.2 49.9,243.3 50.5,243.5 51.0,243.7 51.5,244.1 52.1,244.2 52.6,244.2 53.1,245.0 53.7,245.0 54.2,245.2 54.7,245.2 55.3,244.8 55.8,245.2 56.4,245.1 56.9,244.5 57.5,244.6 58.0,244.6 58.6,244.5 59.1,244.3 59.7,244.2 60.3,243.7 61.2,241.0 61.8,234.4 62.3,240.0 62.7,245.3 63.6,253.5 64.2,253.6 64.8,254.0 65.4,254.0 65.9,254.1 66.4,253.8 66.9,253.9 67.4,254.0 67.9,254.0 68.4,253.7 68.9,253.7 69.4,253.4 69.9,253.4 70.4,253.7 70.9,253.5 71.4,253.4 71.9,253.1 72.4,253.3 73.0,253.3 73.5,253.1 74.0,252.9 74.5,252.8 75.0,252.8 75.5,252.8 76.0,252.6 76.6,252.4 77.1,252.4 77.6,252.0 78.1,252.2 78.6,251.8 79.1,252.1 79.6,252.2 80.1,251.9 80.6,251.6 81.1,251.4 81.6,251.5 82.1,251.7 82.7,251.5 83.2,251.2 83.7,251.3 84.2,250.8 84.7,250.9 85.2,251.1 85.7,250.7 86.2,250.6 86.7,250.4 87.2,250.4 87.7,250.3 88.2,250.4 88.7,249.7 89.2,250.0 89.7,249.9 90.2,249.8 90.7,249.6 91.2,249.5 91.8,249.2 92.3,249.1 92.8,248.9 93.3,248.5 93.8,248.9 94.3,248.6 94.8,248.2 95.3,248.3 95.8,248.1 96.3,248.0 96.8,247.7 97.3,247.5 97.8,247.4 98.4,247.2 98.9,247.0 99.4,246.7 99.9,246.2 100.4,246.1 100.9,245.9 101.4,245.9 102.0,245.9 102.5,245.6 103.0,245.4 103.5,245.0 104.0,244.9 104.5,244.3 105.0,244.3 105.5,243.9 106.0,243.2 106.5,242.9 107.0,242.6 107.5,242.6 108.1,243.2 108.7,243.3 109.3,243.9 109.8,243.5 110.4,243.7 110.9,243.5 111.5,215.0 111.9,187.1 112.2,220.0 112.5,250.5 113.0,250.6 113.5,250.6 114.0,251.0 114.5,250.6 115.0,250.5 115.5,250.1 116.1,249.9 116.6,250.0 117.1,249.6 117.6,250.0 118.1,250.4 118.6,251.0 119.1,251.2 119.6,251.0 120.1,251.4 120.6,251.6 121.1,251.6 121.6,252.0 122.1,251.8 122.6,252.2 123.1,252.0 123.6,251.8 124.1,252.1 124.6,252.0 125.2,246.0 125.5,242.0 126.1,259.0 126.6,259.3 127.1,258.8 127.6,258.9 128.1,259.1 128.7,259.5 129.2,259.2 129.7,259.6 130.2,259.6 130.7,259.6 131.2,259.6 131.7,259.3 132.2,259.7 132.8,259.5 133.3,259.2 133.8,259.0 134.3,259.2 134.8,259.0 135.4,254.2 136.0,249.3 136.6,255.0 137.3,260.2 137.8,255.0 138.4,249.7 138.9,244.5 139.7,261.4 140.3,260.7 140.9,260.2 141.4,259.5 142.0,258.6 142.5,258.0 143.3,239.7 143.9,252.0 144.4,245.0 145.0,238.5 145.3,255.0 145.7,278.3 146.3,281.7 146.9,285.1 147.4,285.3 148.0,285.1 148.5,285.3 149.1,285.8 149.6,285.9 150.2,285.7 150.7,286.1 151.3,285.9 151.8,286.1 152.3,286.3 152.9,286.1 153.4,285.9 153.9,285.7 154.5,285.5 155.0,286.0 155.5,285.4 156.1,285.8 156.6,285.6 157.1,285.8 157.7,285.5 158.2,285.2 158.7,285.6 159.3,285.6 159.8,285.4 160.3,285.2 160.9,285.1 161.4,285.1 161.9,284.8 162.4,284.5 162.9,284.6 163.5,284.3 164.0,283.9 164.5,283.7 165.0,283.7 165.7,283.3 166.3,282.7 167.0,288.0 167.3,260.0 167.5,232.4 167.8,255.0 168.2,285.0 168.7,295.3 169.3,298.3 169.9,301.3" fill="none" stroke="#1c1cb8" stroke-width="1.1" stroke-linejoin="round" />
<rect x="20.7" y="180.6" width="149.60000000000002" height="120.70000000000002" fill="none" stroke="#2a2a2a" stroke-width="1"/>
<line x1="20.7" y1="301.3" x2="20.7" y2="303.7" stroke="#2a2a2a" stroke-width="0.9"/>
<line x1="45.63333333333334" y1="301.3" x2="45.63333333333334" y2="302.6" stroke="#2a2a2a" stroke-width="0.9"/>
<line x1="70.56666666666668" y1="301.3" x2="70.56666666666668" y2="303.7" stroke="#2a2a2a" stroke-width="0.9"/>
<line x1="95.50000000000001" y1="301.3" x2="95.50000000000001" y2="302.6" stroke="#2a2a2a" stroke-width="0.9"/>
<line x1="120.43333333333335" y1="301.3" x2="120.43333333333335" y2="303.7" stroke="#2a2a2a" stroke-width="0.9"/>
<line x1="145.36666666666667" y1="301.3" x2="145.36666666666667" y2="302.6" stroke="#2a2a2a" stroke-width="0.9"/>
<line x1="170.3" y1="301.3" x2="170.3" y2="303.7" stroke="#2a2a2a" stroke-width="0.9"/>
<text x="20.7" y="311.2" font-size="7.9" font-weight="bold" text-anchor="middle" fill="#222" >1350</text>
<text x="70.56666666666668" y="311.2" font-size="7.9" font-weight="bold" text-anchor="middle" fill="#222" >900</text>
<text x="120.43333333333335" y="311.2" font-size="7.9" font-weight="bold" text-anchor="middle" fill="#222" >450</text>
<text x="170.3" y="311.2" font-size="7.9" font-weight="bold" text-anchor="middle" fill="#222" >0</text>
<text x="95.3" y="321.6" font-size="10.1" font-weight="normal" text-anchor="middle" fill="#222" >Binding Energy (eV)</text>
<text transform="translate(15.3,237.5) rotate(-90)" font-size="10.2" text-anchor="middle" fill="#222">Intensity (a.u.)</text>
<line x1="29.1" y1="188" x2="46.9" y2="188" stroke="#8a8ae6" stroke-width="1.1"/>
<text x="49.5" y="190.6" font-size="7.9" font-weight="normal" text-anchor="start" fill="#222" >TaN-PVP</text>
<text x="118.3" y="238.5" font-size="7.8" font-weight="normal" text-anchor="start" fill="#222" >N 1s</text>
<text x="150.8" y="228.9" font-size="8.0" font-weight="normal" text-anchor="start" fill="#222" >Ta 4f</text>
<text x="176.6" y="174.7" font-size="9.1" font-weight="normal" text-anchor="start" fill="#222" >(E)</text>
<path d="M192.00,296.10 C195.33,296.10 194.33,296.17 202.00,296.10 C209.67,296.03 205.90,296.20 215.00,295.90 C224.10,295.60 220.97,295.77 229.30,295.20 C237.63,294.63 232.97,295.03 240.00,294.20 C247.03,293.37 243.07,293.47 250.40,292.70 C257.73,291.93 254.57,292.07 262.00,291.90 C269.43,291.73 265.03,292.17 272.70,292.20 C280.37,292.23 277.97,292.20 285.00,292.00 C292.03,291.80 288.13,292.17 293.80,291.60 C299.47,291.03 296.37,291.37 302.00,290.30 C307.63,289.23 305.03,289.63 310.70,288.40 C316.37,287.17 313.37,287.73 319.00,286.60 C324.63,285.47 322.27,285.93 327.60,285.00 C332.93,284.07 330.03,284.37 335.00,283.80 C339.97,283.23 338.07,283.77 342.50,283.30 C346.93,282.83 346.37,282.70 348.30,282.40" fill="none" stroke="#2a2a2a" stroke-width="1.0" stroke-linejoin="round"/>
<path d="M192.00,296.10 C195.37,296.10 197.93,296.80 202.10,296.10 C206.27,295.40 203.00,295.83 204.50,294.00 C206.00,292.17 205.43,292.93 206.60,290.60 C207.77,288.27 207.00,289.50 208.00,287.00 C209.00,284.50 208.60,285.27 209.60,283.10 C210.60,280.93 209.97,281.80 211.00,280.50 C212.03,279.20 211.13,280.03 212.70,279.20 C214.27,278.37 214.27,279.07 215.70,278.00 C217.13,276.93 216.00,277.53 217.00,276.00 C218.00,274.47 217.63,274.27 218.70,273.40 C219.77,272.53 219.27,273.70 220.20,273.40 C221.13,273.10 220.50,273.50 221.50,272.50 C222.50,271.50 221.70,272.60 223.20,270.40 C224.70,268.20 224.50,268.53 226.00,265.90 C227.50,263.27 226.70,265.33 227.70,262.50 C228.70,259.67 228.07,261.90 229.00,257.40 C229.93,252.90 229.50,256.03 230.50,249.00 C231.50,241.97 231.10,244.63 232.00,236.30 C232.90,227.97 232.40,231.07 233.20,224.00 C234.00,216.93 233.73,219.77 234.40,215.10 C235.07,210.43 234.70,212.50 235.20,210.00 C235.70,207.50 235.40,208.00 235.90,207.60 C236.40,207.20 236.00,206.30 236.70,208.80 C237.40,211.30 237.07,209.37 238.00,215.10 C238.93,220.83 238.47,217.93 239.50,226.00 C240.53,234.07 240.17,231.97 241.10,239.30 C242.03,246.63 241.50,242.97 242.30,248.00 C243.10,253.03 242.60,251.07 243.50,254.40 C244.40,257.73 244.10,257.20 245.00,258.00 C245.90,258.80 245.50,258.00 246.20,256.80 C246.90,255.60 246.40,257.33 247.10,254.40 C247.80,251.47 247.50,252.53 248.30,248.00 C249.10,243.47 248.83,244.20 249.50,240.80 C250.17,237.40 249.80,239.10 250.30,237.80 C250.80,236.50 250.47,236.83 251.00,236.90 C251.53,236.97 251.20,236.20 251.90,238.00 C252.60,239.80 252.27,238.30 253.10,242.30 C253.93,246.30 253.57,243.97 254.40,250.00 C255.23,256.03 254.83,253.73 255.60,260.40 C256.37,267.07 256.00,264.47 256.70,270.00 C257.40,275.53 256.87,272.67 257.70,277.00 C258.53,281.33 258.20,279.47 259.20,283.00 C260.20,286.53 259.10,285.07 260.70,287.60 C262.30,290.13 261.40,289.40 264.00,290.60 C266.60,291.80 265.60,290.80 268.50,291.20 C271.40,291.60 267.07,291.73 272.70,291.80 C278.33,291.87 276.97,292.27 285.40,291.40 C293.83,290.53 291.80,290.67 298.00,289.20 C304.20,287.73 299.77,288.67 304.00,287.00 C308.23,285.33 307.03,285.77 310.70,284.20 C314.37,282.63 312.17,283.43 315.00,282.30 C317.83,281.17 316.40,281.30 319.20,280.80 C322.00,280.30 321.13,280.47 323.40,280.80 C325.67,281.13 323.87,280.97 326.00,281.80 C328.13,282.63 326.43,282.80 329.80,283.30 C333.17,283.80 331.87,283.30 336.10,283.30 C340.33,283.30 338.43,283.60 342.50,283.30 C346.57,283.00 346.37,282.70 348.30,282.40" fill="none" stroke="#1a1aff" stroke-width="1.05" stroke-linejoin="round"/>
<rect x="191.5" y="180.7" width="158.5" height="117.60000000000002" fill="none" stroke="#2a2a2a" stroke-width="1"/>
<line x1="191.5" y1="298.3" x2="191.5" y2="300.7" stroke="#2a2a2a" stroke-width="0.9"/>
<line x1="211.3125" y1="298.3" x2="211.3125" y2="299.6" stroke="#2a2a2a" stroke-width="0.9"/>
<line x1="231.125" y1="298.3" x2="231.125" y2="300.7" stroke="#2a2a2a" stroke-width="0.9"/>
<line x1="250.9375" y1="298.3" x2="250.9375" y2="299.6" stroke="#2a2a2a" stroke-width="0.9"/>
<line x1="270.75" y1="298.3" x2="270.75" y2="300.7" stroke="#2a2a2a" stroke-width="0.9"/>
<line x1="290.5625" y1="298.3" x2="290.5625" y2="299.6" stroke="#2a2a2a" stroke-width="0.9"/>
<line x1="310.375" y1="298.3" x2="310.375" y2="300.7" stroke="#2a2a2a" stroke-width="0.9"/>
<line x1="330.1875" y1="298.3" x2="330.1875" y2="299.6" stroke="#2a2a2a" stroke-width="0.9"/>
<line x1="350.0" y1="298.3" x2="350.0" y2="300.7" stroke="#2a2a2a" stroke-width="0.9"/>
<text x="191.5" y="307.7" font-size="7.0" font-weight="bold" text-anchor="middle" fill="#222" >20</text>
<text x="231.125" y="307.7" font-size="7.0" font-weight="bold" text-anchor="middle" fill="#222" >25</text>
<text x="270.75" y="307.7" font-size="7.0" font-weight="bold" text-anchor="middle" fill="#222" >30</text>
<text x="310.375" y="307.7" font-size="7.0" font-weight="bold" text-anchor="middle" fill="#222" >35</text>
<text x="350.0" y="307.7" font-size="7.0" font-weight="bold" text-anchor="middle" fill="#222" >40</text>
<text x="270.3" y="321.1" font-size="9.0" font-weight="normal" text-anchor="middle" fill="#222" >Binding Energy (eV)</text>
<text transform="translate(184,242.1) rotate(-90)" font-size="9.1" text-anchor="middle" fill="#222">Intensity (a.u.)</text>
<line x1="291.8" y1="191.4" x2="304.4" y2="191.4" stroke="#1a1aff" stroke-width="1.1"/>
<text x="306.4" y="193.7" font-size="7.0" font-weight="normal" text-anchor="start" fill="#222" >Raw data</text>
<line x1="291.8" y1="200.1" x2="304.4" y2="200.1" stroke="#333" stroke-width="1.1"/>
<text x="306.4" y="202.4" font-size="7.0" font-weight="normal" text-anchor="start" fill="#222" >Background</text>
<text x="235.6" y="204.1" font-size="7.4" font-weight="normal" text-anchor="middle" fill="#222" >Ta 4f</text>
<text x="352.4" y="174.7" font-size="9.1" font-weight="normal" text-anchor="start" fill="#222" >(F)</text>
<path d="M377.10,195.00 C377.73,196.50 377.60,196.27 379.00,199.50 C380.40,202.73 379.80,201.37 381.30,204.70 C382.80,208.03 381.90,206.27 383.50,209.50 C385.10,212.73 384.10,211.63 386.10,214.40 C388.10,217.17 387.10,215.80 389.50,217.80 C391.90,219.80 390.80,219.03 393.30,220.40 C395.80,221.77 394.57,221.10 397.00,221.90 C399.43,222.70 398.93,222.50 400.60,222.80 C402.27,223.10 401.20,222.87 402.00,222.80 C402.80,222.73 402.00,222.00 403.00,222.60 C404.00,223.20 403.40,223.30 405.00,224.60 C406.60,225.90 405.47,225.27 407.80,226.50 C410.13,227.73 408.77,227.10 412.00,228.30 C415.23,229.50 413.17,228.87 417.50,230.10 C421.83,231.33 419.63,230.43 425.00,232.00 C430.37,233.57 426.20,233.13 433.60,234.80 C441.00,236.47 438.13,235.53 447.20,237.00 C456.27,238.47 451.73,237.67 460.80,239.20 C469.87,240.73 465.33,240.07 474.40,241.60 C483.47,243.13 478.93,242.23 488.00,243.80 C497.07,245.37 495.93,245.23 501.60,246.30 C507.27,247.37 502.87,246.47 505.00,247.00 C507.13,247.53 504.60,247.60 508.00,247.90 C511.40,248.20 509.17,247.47 515.20,247.90 C521.23,248.33 519.17,248.13 526.10,249.20 C533.03,250.27 532.70,250.47 536.00,251.10" fill="none" stroke="#222" stroke-width="1.0" stroke-linejoin="round"/>
<rect x="377.2" y="181.3" width="158.90000000000003" height="117.59999999999997" fill="none" stroke="#2a2a2a" stroke-width="1"/>
<line x1="377.2" y1="298.9" x2="377.2" y2="301.29999999999995" stroke="#2a2a2a" stroke-width="0.9"/>
<line x1="387.13124999999997" y1="298.9" x2="387.13124999999997" y2="300.2" stroke="#2a2a2a" stroke-width="0.9"/>
<line x1="397.0625" y1="298.9" x2="397.0625" y2="301.29999999999995" stroke="#2a2a2a" stroke-width="0.9"/>
<line x1="406.99375" y1="298.9" x2="406.99375" y2="300.2" stroke="#2a2a2a" stroke-width="0.9"/>
<line x1="416.925" y1="298.9" x2="416.925" y2="301.29999999999995" stroke="#2a2a2a" stroke-width="0.9"/>
<line x1="426.85625" y1="298.9" x2="426.85625" y2="300.2" stroke="#2a2a2a" stroke-width="0.9"/>
<line x1="436.7875" y1="298.9" x2="436.7875" y2="301.29999999999995" stroke="#2a2a2a" stroke-width="0.9"/>
<line x1="446.71875" y1="298.9" x2="446.71875" y2="300.2" stroke="#2a2a2a" stroke-width="0.9"/>
<line x1="456.65" y1="298.9" x2="456.65" y2="301.29999999999995" stroke="#2a2a2a" stroke-width="0.9"/>
<line x1="466.58125" y1="298.9" x2="466.58125" y2="300.2" stroke="#2a2a2a" stroke-width="0.9"/>
<line x1="476.51250000000005" y1="298.9" x2="476.51250000000005" y2="301.29999999999995" stroke="#2a2a2a" stroke-width="0.9"/>
<line x1="486.44375" y1="298.9" x2="486.44375" y2="300.2" stroke="#2a2a2a" stroke-width="0.9"/>
<line x1="496.375" y1="298.9" x2="496.375" y2="301.29999999999995" stroke="#2a2a2a" stroke-width="0.9"/>
<line x1="506.30625" y1="298.9" x2="506.30625" y2="300.2" stroke="#2a2a2a" stroke-width="0.9"/>
<line x1="516.2375" y1="298.9" x2="516.2375" y2="301.29999999999995" stroke="#2a2a2a" stroke-width="0.9"/>
<line x1="526.16875" y1="298.9" x2="526.16875" y2="300.2" stroke="#2a2a2a" stroke-width="0.9"/>
<line x1="536.1" y1="298.9" x2="536.1" y2="301.29999999999995" stroke="#2a2a2a" stroke-width="0.9"/>
<line x1="374.8" y1="298.9" x2="377.2" y2="298.9" stroke="#2a2a2a" stroke-width="0.9"/>
<line x1="375.9" y1="287.14" x2="377.2" y2="287.14" stroke="#2a2a2a" stroke-width="0.9"/>
<line x1="374.8" y1="275.38" x2="377.2" y2="275.38" stroke="#2a2a2a" stroke-width="0.9"/>
<line x1="375.9" y1="263.62" x2="377.2" y2="263.62" stroke="#2a2a2a" stroke-width="0.9"/>
<line x1="374.8" y1="251.85999999999999" x2="377.2" y2="251.85999999999999" stroke="#2a2a2a" stroke-width="0.9"/>
<line x1="375.9" y1="240.1" x2="377.2" y2="240.1" stroke="#2a2a2a" stroke-width="0.9"/>
<line x1="374.8" y1="228.33999999999997" x2="377.2" y2="228.33999999999997" stroke="#2a2a2a" stroke-width="0.9"/>
<line x1="375.9" y1="216.57999999999998" x2="377.2" y2="216.57999999999998" stroke="#2a2a2a" stroke-width="0.9"/>
<line x1="374.8" y1="204.82" x2="377.2" y2="204.82" stroke="#2a2a2a" stroke-width="0.9"/>
<line x1="375.9" y1="193.06" x2="377.2" y2="193.06" stroke="#2a2a2a" stroke-width="0.9"/>
<line x1="374.8" y1="181.3" x2="377.2" y2="181.3" stroke="#2a2a2a" stroke-width="0.9"/>
<text x="377.2" y="308.3" font-size="7.0" font-weight="bold" text-anchor="middle" fill="#222" >300</text>
<text x="397.0625" y="308.3" font-size="7.0" font-weight="bold" text-anchor="middle" fill="#222" >400</text>
<text x="416.925" y="308.3" font-size="7.0" font-weight="bold" text-anchor="middle" fill="#222" >500</text>
<text x="436.7875" y="308.3" font-size="7.0" font-weight="bold" text-anchor="middle" fill="#222" >600</text>
<text x="456.65" y="308.3" font-size="7.0" font-weight="bold" text-anchor="middle" fill="#222" >700</text>
<text x="476.51250000000005" y="308.3" font-size="7.0" font-weight="bold" text-anchor="middle" fill="#222" >800</text>
<text x="496.375" y="308.3" font-size="7.0" font-weight="bold" text-anchor="middle" fill="#222" >900</text>
<text x="516.2375" y="308.3" font-size="7.0" font-weight="bold" text-anchor="middle" fill="#222" >1000</text>
<text x="536.1" y="308.3" font-size="7.0" font-weight="bold" text-anchor="middle" fill="#222" >1100</text>
<text x="373.5" y="301.2" font-size="7.0" font-weight="bold" text-anchor="end" fill="#222" >0.0</text>
<text x="373.5" y="277.68" font-size="7.0" font-weight="bold" text-anchor="end" fill="#222" >0.2</text>
<text x="373.5" y="254.16" font-size="7.0" font-weight="bold" text-anchor="end" fill="#222" >0.4</text>
<text x="373.5" y="230.64" font-size="7.0" font-weight="bold" text-anchor="end" fill="#222" >0.6</text>
<text x="373.5" y="207.12" font-size="7.0" font-weight="bold" text-anchor="end" fill="#222" >0.8</text>
<text x="373.5" y="183.60000000000002" font-size="7.0" font-weight="bold" text-anchor="end" fill="#222" >1.0</text>
<text x="456.8" y="320.8" font-size="9.2" font-weight="normal" text-anchor="middle" fill="#222" >Wavelength (nm)</text>
<svg x="355.1" y="150" width="20" height="170" overflow="hidden"><text transform="translate(4.5,91.85) rotate(-90)" font-size="9.1" text-anchor="middle" fill="#222">Absorbance (a.u.)</text></svg>
<line x1="486.6" y1="191.9" x2="498.9" y2="191.9" stroke="#222" stroke-width="1"/>
<text x="500.8" y="194.5" font-size="7.25" font-weight="normal" text-anchor="start" fill="#222" >TaN-PVP</text>
</svg>
</body></html>
